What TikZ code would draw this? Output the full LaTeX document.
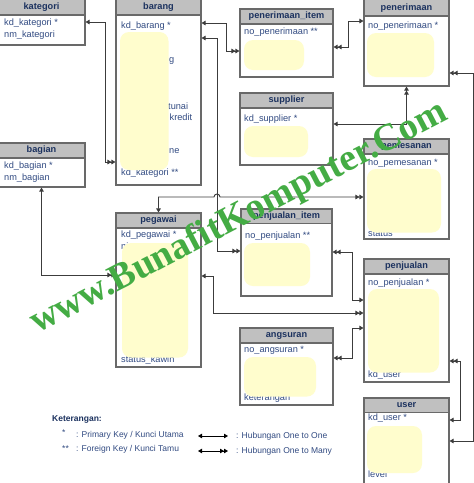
\documentclass[tikz,border=0pt]{standalone}
\usepackage{fontspec}
\setmainfont{Liberation Sans}
\newfontfamily\wmfont{Liberation Serif}
\usetikzlibrary{arrows.meta,fit,calc}
\definecolor{hdrgray}{RGB}{192,192,192}
\definecolor{boxline}{RGB}{105,105,105}
\definecolor{hdrtext}{RGB}{28,50,95}
\definecolor{fieldtext}{RGB}{50,75,130}
\definecolor{blobyel}{RGB}{255,253,205}
\definecolor{wmgreen}{RGB}{68,172,68}
\definecolor{conn}{RGB}{60,60,60}
\newcommand\ertable[7]{% name, x1, y1, x2, y2, title, header height
  \fill[white] (#2,#3) rectangle (#4,#5);
  \fill[hdrgray] (#2,#3) rectangle (#4,#3+#7);
  \node[htxt] at ({(#2+#4)/2},#3+#7/2) {#6};
  \node[tbl, fit={(#2,#3)(#4,#5)}] (#1) {};
  \draw[boxline, line width=1.1pt] (#2,#3+#7) -- (#4,#3+#7);
}
\begin{document}
\begin{tikzpicture}[x=1pt,y=-1pt,
  tbl/.style={inner sep=0pt, draw=boxline, line width=1.1pt},
  htxt/.style={font=\bfseries\fontsize{9.2}{10}\selectfont, text=hdrtext, inner sep=0pt},
  ftxt/.style={font=\fontsize{9.2}{10}\selectfont, text=fieldtext, anchor=west, inner sep=0pt},
  ltxt/.style={font=\fontsize{8.5}{10}\selectfont, text=fieldtext, anchor=west, inner sep=0pt},
  yblob/.style={fill=blobyel, draw=none, rounded corners=9pt},
  link/.style={draw=conn, line width=0.9pt},
  >={Triangle[length=4pt,width=4.5pt]}
]
\useasboundingbox (0,0) rectangle (474,483);
\fill[white] (0,0) rectangle (474,483);

% tables
\ertable{kategori}{-2}{-0.5}{85}{45}{kategori}{15.5}
\ertable{barang}{116}{-0.5}{201}{185}{barang}{15.5}
\ertable{pitem}{240}{9}{333}{77}{penerimaan\_item}{15}
\ertable{penerimaan}{364}{-0.5}{449}{86}{penerimaan}{16.5}
\ertable{supplier}{240}{93}{333}{165}{supplier}{15}
\ertable{pemesanan}{364}{139}{449}{239}{pemesanan}{15}
\ertable{bagian}{-2}{143}{85}{187}{bagian}{15}
\ertable{pegawai}{116}{213}{201}{367}{pegawai}{15}
\ertable{jitem}{241}{209}{332}{296}{penjualan\_item}{14.5}
\ertable{penjualan}{364}{259}{449}{382}{penjualan}{15}
\ertable{angsuran}{240}{328}{333}{405}{angsuran}{15}
\ertable{user}{364}{398}{449}{495}{user}{14.5}

% fields
\node[ftxt] (f1) at (4,23) {kd\_kategori *};
\node[ftxt] (f2) at (4,35) {nm\_kategori};
\node[ftxt] (f3) at (121,26) {kd\_barang *};
\node[ftxt] (f4) at (169,61) {g};
\node[ftxt] (f5) at (168,106) {tunai};
\node[ftxt] (f6) at (169.5,117) {kredit};
\node[ftxt] (f7) at (169,151) {ne};
\node[ftxt] (f8) at (121,173.5) {kd\_kategori **};
\node[ftxt] (f9) at (4,166) {kd\_bagian *};
\node[ftxt] (f10) at (4,178) {nm\_bagian};
\node[ftxt] (f11) at (121,235) {kd\_pegawai *};
\node[ftxt] (f12) at (121,246) {ni};
\node[ftxt] (f13) at (121,360) {status\_kawin};
\node[ftxt] (f14) at (244,32) {no\_penerimaan **};
\node[ftxt] (f15) at (368,26) {no\_penerimaan *};
\node[ftxt] (f16) at (244,119) {kd\_supplier *};
\node[ftxt] (f17) at (368,163) {no\_pemesanan *};
\node[ftxt] (f18) at (368,233.5) {status};
\node[ftxt] (f19) at (245,236) {no\_penjualan **};
\node[ftxt] (f20) at (368,283) {no\_penjualan *};
\node[ftxt] (f21) at (368,375) {kd\_user};
\node[ftxt] (f22) at (244,350) {no\_angsuran *};
\node[ftxt] (f23) at (244,398.5) {keterangan};
\node[ftxt] (f24) at (368,418) {kd\_user *};
\node[ftxt] (f25) at (368,474.5) {level};

% yellow blobs
\fill[yblob] (120,32) rectangle (168.5,170);
\fill[yblob] (244,40) rectangle (304,70);
\fill[yblob] (367,33) rectangle (434,77);
\fill[yblob] (244,126) rectangle (308,157);
\fill[yblob] (367,169) rectangle (441,232.5);
\fill[yblob] (122,243) rectangle (188,357.5);
\fill[yblob] (244,243) rectangle (310,286);
\fill[yblob] (368,289) rectangle (439,372.5);
\fill[yblob] (244,357) rectangle (316,396.5);
\fill[yblob] (367,426) rectangle (422,473);

% connectors
\draw[link,<->>] (kategori.east |- 0,22) -| (105,162) -- (barang.west |- 0,162);
\draw[link,<->>] (barang.east |- 0,23) -| (226,51) -- (pitem.west |- 0,51);
\draw[link,<->>] (barang.east |- 0,38) -| (217,251) -- (jitem.west |- 0,251);
\draw[link,<->>] (pegawai.north) |- (214,197) arc[start angle=180,end angle=360,radius=3] -- (pemesanan.west |- 0,197);
\draw[link,<->>] (bagian.south) |- (pegawai.west |- 0,275);
\draw[link,<->>] (pegawai.east |- 0,276) -| (213,313) -- (penjualan.west |- 0,313);
\draw[link,<<->] (jitem.east |- 0,252) -| (352,300) -- (penjualan.west |- 0,300);
\draw[link,<<->] (angsuran.east |- 0,358) -| (352,328) -- (penjualan.west |- 0,328);
\draw[link,<<->] (pitem.east |- 0,47) -| (348,21) -- (penerimaan.west |- 0,21);
\draw[link,<<->] (penerimaan.south) |- (supplier.east |- 0,124);
\draw[link,<<->] (penerimaan.east |- 0,73) -| (473,441) -- (user.east |- 0,441);
\draw[link,<<->] (penjualan.east |- 0,361) -| (460,420) -- (user.east |- 0,420);

% legend
\node[ltxt, font=\bfseries\fontsize{8.5}{10}\selectfont, text=hdrtext] (ket) at (52,419) {Keterangan:};
\node[ltxt] (s1) at (62,433) {*};
\node[ltxt] (s2) at (62,449) {**};
\node[ltxt] (l1) at (76,435) {: Primary Key / Kunci Utama};
\node[ltxt] (l2) at (76,449) {: Foreign Key / Kunci Tamu};
\coordinate (a1) at (198,436);
\coordinate (b1) at (228,436);
\coordinate (a2) at (198,451);
\coordinate (b2) at (228,451);
\draw[link,draw=black,<->] (a1) -- (b1);
\draw[link,draw=black,<->>] (a2) -- (b2);
\node[ltxt] (l3) at (236,436) {: Hubungan One to One};
\node[ltxt] (l4) at (236,451) {: Hubungan One to Many};

% watermark
\node[font=\wmfont\bfseries\fontsize{38}{40}\selectfont, text=wmgreen, rotate=27.5, anchor=base west, inner sep=0pt] (wm) at (37,334) {www.BunafitKomputer.Com};
\end{tikzpicture}
\end{document}
